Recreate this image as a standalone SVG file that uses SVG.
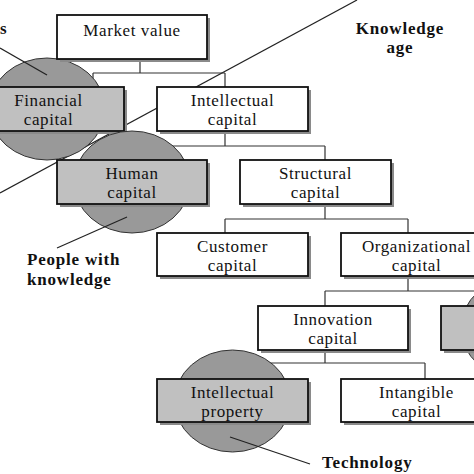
<svg xmlns="http://www.w3.org/2000/svg" width="474" height="474" viewBox="0 0 474 474">
<style>
.box{fill:#fff;stroke:#111;stroke-width:1.8}
.gbox{fill:#c0c0c0;stroke:#111;stroke-width:1.8}
.sh{fill:#8a8a8a}
.circ{fill:#999;stroke:#333;stroke-width:1}
.con{fill:none;stroke:#333;stroke-width:1.2}
.ptr{fill:none;stroke:#222;stroke-width:1.2}
.t{font-family:"Liberation Serif","Times New Roman",serif;font-size:17px;fill:#111;text-anchor:middle;letter-spacing:0.6px}
.b{font-family:"Liberation Serif","Times New Roman",serif;font-size:17px;font-weight:bold;fill:#111;letter-spacing:0.8px}
</style>
<rect width="474" height="474" fill="#fff"/>
<g id="era-line"><line class="ptr" x1="0" y1="193" x2="357" y2="0"/></g>
<g id="connectors">
<path class="con" d="M140 59V73M93 73H225M93 73V87M225 73V87"/>
<path class="con" d="M225 131V146M131 146H325M131 146V160M325 146V160"/>
<path class="con" d="M325 204V219M225 219H408M225 219V233M408 219V233"/>
<path class="con" d="M408 276V291M325 291H519M325 291V306M519 291V306"/>
<path class="con" d="M325 350V363M225 363H425M225 363V379M425 363V379"/>
</g>
<g id="financial-capital">
<ellipse class="circ" cx="47" cy="109" rx="58" ry="51"/>
<rect class="sh" x="-24" y="90" width="151" height="44"/>
<rect class="gbox" x="-27" y="87" width="151" height="44"/>
<text class="t" x="48.5" y="106">Financial</text>
<text class="t" x="48.5" y="125">capital</text>
</g>
<g id="human-capital">
<ellipse class="circ" cx="132" cy="182" rx="58" ry="51"/>
<rect class="sh" x="60" y="163" width="150" height="44"/>
<rect class="gbox" x="57" y="160" width="150" height="44"/>
<text class="t" x="132" y="179">Human</text>
<text class="t" x="132" y="198">capital</text>
</g>
<g id="intellectual-property">
<ellipse class="circ" cx="232.5" cy="401" rx="58" ry="51"/>
<rect class="sh" x="160" y="382" width="151" height="43"/>
<rect class="gbox" x="157" y="379" width="151" height="43"/>
<text class="t" x="232.5" y="398">Intellectual</text>
<text class="t" x="232.5" y="417">property</text>
</g>
<g id="hidden-node">
<ellipse class="circ" cx="519" cy="328" rx="58" ry="51"/>
<rect class="sh" x="444" y="309" width="151" height="44"/>
<rect class="gbox" x="441" y="306" width="151" height="44"/>
</g>
<g id="market-value">
<rect class="sh" x="60" y="18" width="150" height="44"/>
<rect class="box" x="57" y="15" width="150" height="44"/>
<text class="t" x="132" y="36">Market value</text>
</g>
<g id="intellectual-capital">
<rect class="sh" x="160" y="90" width="151" height="44"/>
<rect class="box" x="157" y="87" width="151" height="44"/>
<text class="t" x="232.5" y="106">Intellectual</text>
<text class="t" x="232.5" y="125">capital</text>
</g>
<g id="structural-capital">
<rect class="sh" x="243" y="163" width="151" height="44"/>
<rect class="box" x="240" y="160" width="151" height="44"/>
<text class="t" x="315.5" y="179">Structural</text>
<text class="t" x="315.5" y="198">capital</text>
</g>
<g id="customer-capital">
<rect class="sh" x="160" y="236" width="151" height="43"/>
<rect class="box" x="157" y="233" width="151" height="43"/>
<text class="t" x="232.5" y="252">Customer</text>
<text class="t" x="232.5" y="271">capital</text>
</g>
<g id="organizational-capital">
<rect class="sh" x="344" y="236" width="151" height="43"/>
<rect class="box" x="341" y="233" width="151" height="43"/>
<text class="t" x="416.5" y="252">Organizational</text>
<text class="t" x="416.5" y="271">capital</text>
</g>
<g id="innovation-capital">
<rect class="sh" x="261" y="309" width="150" height="44"/>
<rect class="box" x="258" y="306" width="150" height="44"/>
<text class="t" x="333" y="325">Innovation</text>
<text class="t" x="333" y="344">capital</text>
</g>
<g id="intangible-capital">
<rect class="sh" x="344" y="382" width="151" height="43"/>
<rect class="box" x="341" y="379" width="151" height="43"/>
<text class="t" x="416.5" y="398">Intangible</text>
<text class="t" x="416.5" y="417">capital</text>
</g>
<g id="labels">
<line class="ptr" x1="0" y1="48" x2="47" y2="75"/>
<line class="ptr" x1="57" y1="248" x2="127" y2="217"/>
<line class="ptr" x1="230" y1="437" x2="310" y2="464"/>
<text class="b" x="0" y="34">s</text>
<text class="b" x="400" y="34" text-anchor="middle">Knowledge</text>
<text class="b" x="400" y="53" text-anchor="middle">age</text>
<text class="b" x="27" y="265">People with</text>
<text class="b" x="27" y="285">knowledge</text>
<text class="b" x="322" y="468">Technology</text>
</g>
</svg>
